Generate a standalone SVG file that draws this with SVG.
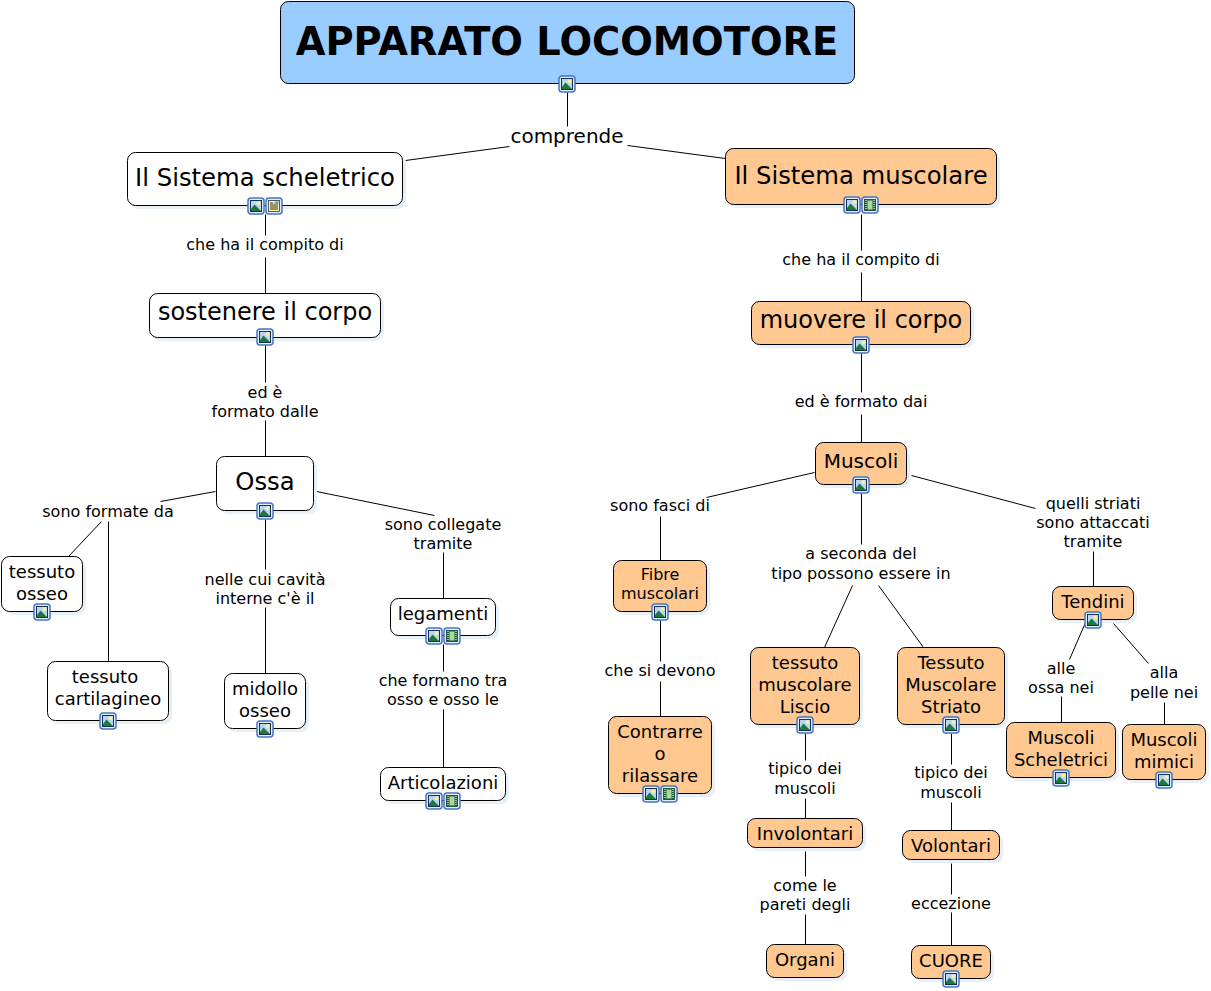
<svg xmlns="http://www.w3.org/2000/svg" width="1211" height="991" viewBox="0 0 1211 991">
<style>
text{font-family:"DejaVu Sans",Verdana,sans-serif;fill:#000;text-anchor:middle}
.n text{transform:translateY(1px)}
.n rect.b{stroke:#000;stroke-width:1;fill:#fff}
.o rect.b{fill:#ffc890}
.t rect.b{fill:#99ccff}
rect.s{fill:#e8f0f7;stroke:none}
#connectors line{stroke:#000;stroke-width:1}
.l{font-size:16px}
.f24{font-size:24.3px}.f20{font-size:20px}.f18{font-size:18px}.f16{font-size:16px}
</style>
<defs>
<symbol id="img" viewBox="0 0 18 18" width="18" height="18">
<rect x="1" y="1" width="16" height="16" rx="3" fill="#e4eefa" stroke="#4476c4" stroke-width="1.5"/>
<rect x="3.5" y="3.5" width="11" height="11" fill="#b9d6f2" stroke="#1b2f4a" stroke-width="1"/>
<circle cx="11.5" cy="6.3" r="2" fill="#fbeea0"/>
<path d="M4 14V12L7.5 7.5 10.5 10.5 14 14z" fill="#1c7a3e"/>
</symbol>
<symbol id="doc" viewBox="0 0 18 18" width="18" height="18">
<rect x="1" y="1" width="16" height="16" rx="3" fill="#e4eefa" stroke="#4476c4" stroke-width="1.5"/>
<rect x="3.5" y="3.5" width="11" height="11" fill="#fdf3a8" stroke="#333" stroke-width=".8"/>
<path d="M5 6h3M5 8h8M5 10h8M5 12h8" stroke="#333" stroke-width="1"/>
<rect x="9.5" y="4.5" width="4" height="3" fill="#7f95c9"/>
</symbol>
<symbol id="vid" viewBox="0 0 18 18" width="18" height="18">
<rect x="1" y="1" width="16" height="16" rx="3" fill="#e4eefa" stroke="#4476c4" stroke-width="1.5"/>
<rect x="3.5" y="3.5" width="11" height="11" fill="#1f5f34" stroke="#173d25" stroke-width=".8"/>
<rect x="6.5" y="4.5" width="5" height="9" fill="#a9d8a0"/>
<path d="M5 4v10M13 4v10" stroke="#e8f4e0" stroke-width="1.2" stroke-dasharray="1 1"/>
</symbol>
</defs>
<g id="connectors" transform="translate(.5 .5)">
<line x1="567" y1="92" x2="567" y2="126"/>
<line x1="509" y1="146" x2="405" y2="160"/>
<line x1="627" y1="145" x2="725" y2="158"/>
<line x1="265" y1="214" x2="265" y2="235"/>
<line x1="265" y1="257" x2="265" y2="293"/>
<line x1="265" y1="345" x2="265" y2="382"/>
<line x1="265" y1="420" x2="265" y2="456"/>
<line x1="215" y1="491" x2="160" y2="501"/>
<line x1="101" y1="521" x2="68" y2="556"/>
<line x1="108" y1="521" x2="108" y2="661"/>
<line x1="265" y1="519" x2="265" y2="569"/>
<line x1="265" y1="607" x2="265" y2="673"/>
<line x1="316" y1="491" x2="434" y2="515"/>
<line x1="443" y1="552" x2="443" y2="598"/>
<line x1="443" y1="644" x2="443" y2="671"/>
<line x1="443" y1="709" x2="443" y2="767"/>
<line x1="861" y1="214" x2="861" y2="250"/>
<line x1="861" y1="272" x2="861" y2="301"/>
<line x1="861" y1="353" x2="861" y2="392"/>
<line x1="861" y1="414" x2="861" y2="442"/>
<line x1="814" y1="472" x2="706" y2="497"/>
<line x1="660" y1="516" x2="660" y2="560"/>
<line x1="861" y1="493" x2="861" y2="544"/>
<line x1="911" y1="475" x2="1035" y2="508"/>
<line x1="1093" y1="551" x2="1093" y2="586"/>
<line x1="660" y1="620" x2="660" y2="661"/>
<line x1="660" y1="681" x2="660" y2="716"/>
<line x1="852" y1="585" x2="824" y2="647"/>
<line x1="878" y1="585" x2="923" y2="647"/>
<line x1="805" y1="733" x2="805" y2="760"/>
<line x1="805" y1="798" x2="805" y2="818"/>
<line x1="805" y1="851" x2="805" y2="876"/>
<line x1="805" y1="914" x2="805" y2="944"/>
<line x1="951" y1="733" x2="951" y2="764"/>
<line x1="951" y1="802" x2="951" y2="830"/>
<line x1="951" y1="863" x2="951" y2="894"/>
<line x1="951" y1="912" x2="951" y2="945"/>
<line x1="1085" y1="622" x2="1069" y2="659"/>
<line x1="1113" y1="623" x2="1148" y2="663"/>
<line x1="1061" y1="696" x2="1061" y2="722"/>
<line x1="1164" y1="702" x2="1164" y2="724"/>
</g>
<g class="l">
<text x="567" y="143" font-size="20">comprende</text>
<text x="265" y="250">che ha il compito di</text>
<text x="265" y="398">ed è</text><text x="265" y="417">formato dalle</text>
<text x="108" y="517">sono formate da</text>
<text x="265" y="585">nelle cui cavità</text><text x="265" y="604">interne c'è il</text>
<text x="443" y="530">sono collegate</text><text x="443" y="549">tramite</text>
<text x="443" y="686">che formano tra</text><text x="443" y="705">osso e osso le</text>
<text x="861" y="265">che ha il compito di</text>
<text x="861" y="407">ed è formato dai</text>
<text x="660" y="511">sono fasci di</text>
<text x="861" y="559">a seconda del</text><text x="861" y="579">tipo possono essere in</text>
<text x="1093" y="509">quelli striati</text><text x="1093" y="528">sono attaccati</text><text x="1093" y="547">tramite</text>
<text x="660" y="676">che si devono</text>
<text x="805" y="774">tipico dei</text><text x="805" y="794">muscoli</text>
<text x="805" y="891">come le</text><text x="805" y="910">pareti degli</text>
<text x="951" y="778">tipico dei</text><text x="951" y="798">muscoli</text>
<text x="951" y="909">eccezione</text>
<text x="1061" y="674">alle</text><text x="1061" y="693">ossa nei</text>
<text x="1164" y="678">alla</text><text x="1164" y="698">pelle nei</text>
</g>
<g id="title" class="n t"><rect class="b" x="280.5" y="1.5" width="574" height="82" rx="8"/><text x="567" y="54" font-size="38.4" font-weight="bold">APPARATO LOCOMOTORE</text><use href="#img" x="558" y="75"/></g>
<g id="scheletrico" class="n"><rect class="s" x="131" y="156" width="275" height="53" rx="8"/><rect class="b" x="127.5" y="152.5" width="275" height="53" rx="8"/><text x="265" y="185" class="f24">Il Sistema scheletrico</text><use href="#img" x="247" y="197"/><use href="#doc" x="265" y="197"/></g>
<g id="muscolare" class="n o"><rect class="s" x="729" y="152" width="271" height="56" rx="8"/><rect class="b" x="725.5" y="148.5" width="271" height="56" rx="8"/><text x="861" y="183" class="f24">Il Sistema muscolare</text><use href="#img" x="843" y="196"/><use href="#vid" x="861" y="196"/></g>
<g id="sostenere" class="n"><rect class="s" x="153" y="297" width="231" height="44" rx="8"/><rect class="b" x="149.5" y="293.5" width="231" height="44" rx="8"/><text x="265" y="319" font-size="24">sostenere il corpo</text><use href="#img" x="256" y="328"/></g>
<g id="muovere" class="n o"><rect class="s" x="755" y="305" width="219" height="43" rx="8"/><rect class="b" x="751.5" y="301.5" width="219" height="43" rx="8"/><text x="861" y="327" font-size="24">muovere il corpo</text><use href="#img" x="852" y="336"/></g>
<g id="ossa" class="n"><rect class="s" x="220" y="460" width="97" height="54" rx="8"/><rect class="b" x="216.5" y="456.5" width="97" height="54" rx="8"/><text x="265" y="489" class="f24">Ossa</text><use href="#img" x="256" y="502"/></g>
<g id="muscoli" class="n o"><rect class="s" x="819" y="446" width="91" height="42" rx="8"/><rect class="b" x="815.5" y="442.5" width="91" height="42" rx="8"/><text x="861" y="467" class="f20">Muscoli</text><use href="#img" x="852" y="476"/></g>
<g id="osseo" class="n"><rect class="s" x="5" y="560" width="81" height="55" rx="8"/><rect class="b" x="1.5" y="556.5" width="81" height="55" rx="8"/><text x="42" y="577" class="f18">tessuto</text><text x="42" y="599" class="f18">osseo</text><use href="#img" x="33" y="603"/></g>
<g id="cartilagineo" class="n"><rect class="s" x="51" y="665" width="121" height="59" rx="8"/><rect class="b" x="47.5" y="661.5" width="121" height="59" rx="8"/><text x="105" y="682" class="f18">tessuto</text><text x="108" y="704" class="f18">cartilagineo</text><use href="#img" x="99" y="712"/></g>
<g id="midollo" class="n"><rect class="s" x="228" y="677" width="81" height="55" rx="8"/><rect class="b" x="224.5" y="673.5" width="81" height="55" rx="8"/><text x="265" y="694" class="f18">midollo</text><text x="265" y="716" class="f18">osseo</text><use href="#img" x="256" y="720"/></g>
<g id="legamenti" class="n"><rect class="s" x="394" y="602" width="105" height="37" rx="8"/><rect class="b" x="390.5" y="598.5" width="105" height="37" rx="8"/><text x="443" y="619" class="f18">legamenti</text><use href="#img" x="425" y="627"/><use href="#vid" x="443" y="627"/></g>
<g id="articolazioni" class="n"><rect class="s" x="384" y="771" width="125" height="33" rx="8"/><rect class="b" x="380.5" y="767.5" width="125" height="33" rx="8"/><text x="443" y="788" class="f18">Articolazioni</text><use href="#img" x="425" y="792"/><use href="#vid" x="443" y="792"/></g>
<g id="fibre" class="n o"><rect class="s" x="617" y="564" width="93" height="51" rx="8"/><rect class="b" x="613.5" y="560.5" width="93" height="51" rx="8"/><text x="660" y="579" class="f16">Fibre</text><text x="660" y="598" class="f16">muscolari</text><use href="#img" x="651" y="603"/></g>
<g id="contrarre" class="n o"><rect class="s" x="612" y="720" width="103" height="77" rx="8"/><rect class="b" x="608.5" y="716.5" width="103" height="77" rx="8"/><text x="660" y="737" class="f18">Contrarre</text><text x="660" y="759" class="f18">o</text><text x="660" y="781" class="f18">rilassare</text><use href="#img" x="642" y="785"/><use href="#vid" x="660" y="785"/></g>
<g id="liscio" class="n o"><rect class="s" x="754" y="651" width="109" height="77" rx="8"/><rect class="b" x="750.5" y="647.5" width="109" height="77" rx="8"/><text x="805" y="668" class="f18">tessuto</text><text x="805" y="690" class="f18">muscolare</text><text x="805" y="712" class="f18">Liscio</text><use href="#img" x="796" y="716"/></g>
<g id="striato" class="n o"><rect class="s" x="901" y="651" width="107" height="77" rx="8"/><rect class="b" x="897.5" y="647.5" width="107" height="77" rx="8"/><text x="951" y="668" class="f18">Tessuto</text><text x="951" y="690" class="f18">Muscolare</text><text x="951" y="712" class="f18">Striato</text><use href="#img" x="942" y="716"/></g>
<g id="tendini" class="n o"><rect class="s" x="1056" y="590" width="81" height="33" rx="8"/><rect class="b" x="1052.5" y="586.5" width="81" height="33" rx="8"/><text x="1093" y="607" class="f18">Tendini</text><use href="#img" x="1084" y="611"/></g>
<g id="scheletrici" class="n o"><rect class="s" x="1010" y="726" width="109" height="55" rx="8"/><rect class="b" x="1006.5" y="722.5" width="109" height="55" rx="8"/><text x="1061" y="743" class="f18">Muscoli</text><text x="1061" y="765" class="f18">Scheletrici</text><use href="#img" x="1052" y="769"/></g>
<g id="mimici" class="n o"><rect class="s" x="1126" y="728" width="83" height="55" rx="8"/><rect class="b" x="1122.5" y="724.5" width="83" height="55" rx="8"/><text x="1164" y="745" class="f18">Muscoli</text><text x="1164" y="767" class="f18">mimici</text><use href="#img" x="1155" y="771"/></g>
<g id="involontari" class="n o"><rect class="s" x="751" y="822" width="115" height="29" rx="8"/><rect class="b" x="747.5" y="818.5" width="115" height="29" rx="8"/><text x="805" y="839" class="f18">Involontari</text></g>
<g id="volontari" class="n o"><rect class="s" x="906" y="834" width="97" height="29" rx="8"/><rect class="b" x="902.5" y="830.5" width="97" height="29" rx="8"/><text x="951" y="851" class="f18">Volontari</text></g>
<g id="organi" class="n o"><rect class="s" x="770" y="948" width="77" height="33" rx="8"/><rect class="b" x="766.5" y="944.5" width="77" height="33" rx="8"/><text x="805" y="965" class="f18">Organi</text></g>
<g id="cuore" class="n o"><rect class="s" x="915" y="949" width="79" height="33" rx="8"/><rect class="b" x="911.5" y="945.5" width="79" height="33" rx="8"/><text x="951" y="966" class="f18">CUORE</text><use href="#img" x="942" y="970"/></g>
</svg>
